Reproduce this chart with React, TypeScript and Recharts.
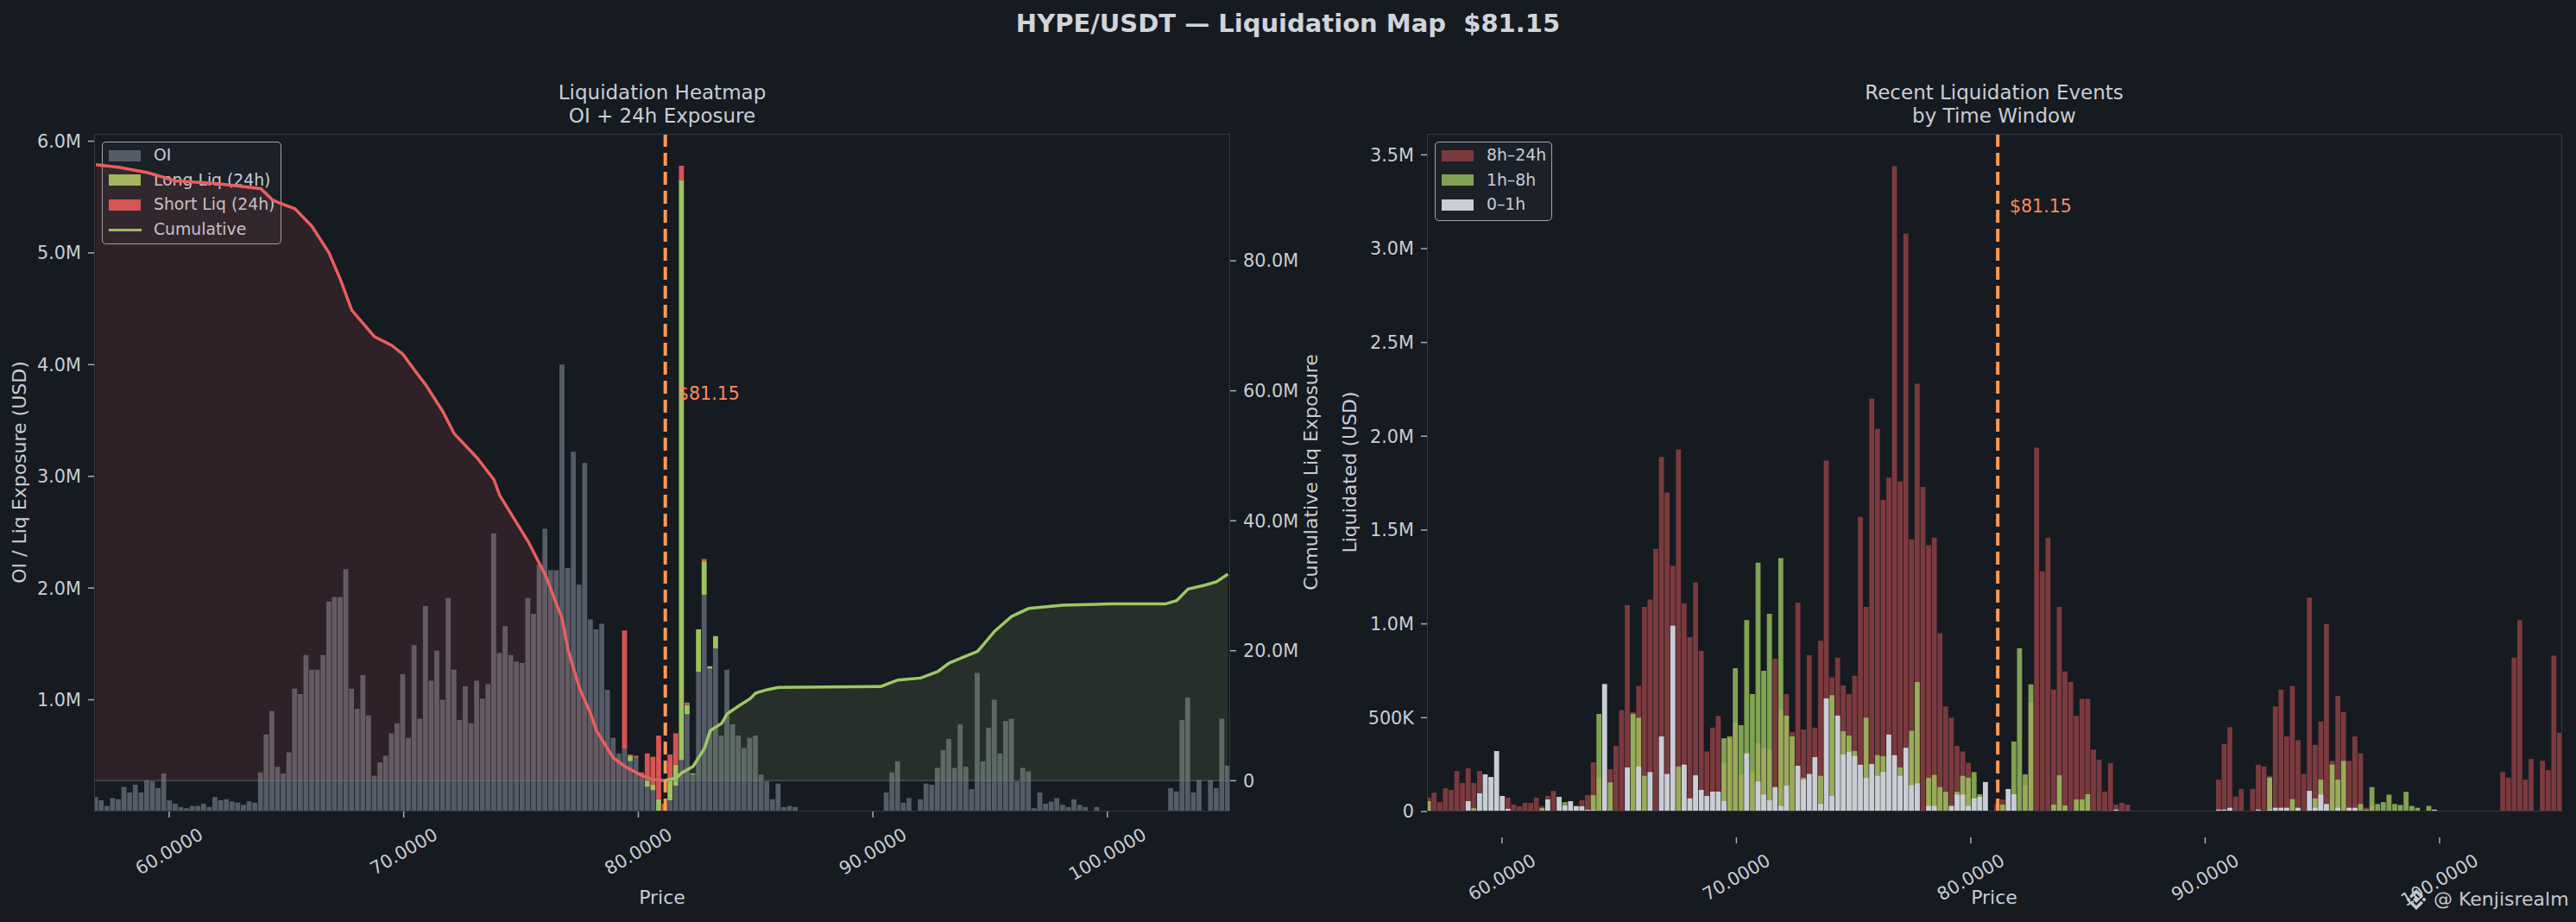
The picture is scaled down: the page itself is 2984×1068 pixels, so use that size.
import React from "react"
import { ComposedChart, Bar, Area, XAxis, YAxis, ReferenceLine } from "recharts"

const BG = "#161a21"
const TEXT = "#c9cdd5"
const FONT = "DejaVu Sans, sans-serif"

// price grid (bin centres) and current price
const PRICE_START = 56.874
const PRICE_STEP = 0.2425
const CURRENT_PRICE = 81.15
const X_DOMAIN = [56.8, 105.23]
const X_TICKS = [60, 70, 80, 90, 100]

// ---- left panel: OI + 24h exposure (millions USD), one value per bin ----
const OI_M = [
  0.13, 0.10, 0.05, 0.12, 0.11, 0.22, 0.17, 0.24, 0.17, 0.28,
  0.27, 0.21, 0.34, 0.10, 0.07, 0.04, 0.03, 0.05, 0.05, 0.07,
  0.04, 0.13, 0.10, 0.11, 0.09, 0.08, 0.06, 0.09, 0.08, 0.35,
  0.69, 0.90, 0.40, 0.34, 0.53, 1.10, 1.05, 1.40, 1.27, 1.27,
  1.40, 1.88, 1.92, 1.92, 2.17, 1.10, 0.92, 1.22, 0.86, 0.32,
  0.44, 0.50, 0.70, 0.79, 1.23, 0.66, 1.49, 0.83, 1.84, 1.17,
  1.44, 1.00, 1.91, 1.27, 0.82, 1.12, 0.79, 1.17, 1.01, 1.14,
  2.49, 1.42, 1.66, 1.40, 1.34, 1.33, 1.91, 1.77, 2.21, 2.53,
  2.16, 2.16, 4.00, 2.18, 3.22, 2.03, 3.12, 1.72, 1.63, 1.68,
  1.09, 0.66, 0.52, 0.56, 0.45, 0.48, 0.33, 0.22, 0.19, 0,
  0, 0.10, 0.23, 0.46, 0.87, 0.33, 1.25, 1.94, 1.28, 1.46,
  0.68, 1.27, 0.78, 0.68, 0.57, 0.66, 0.68, 0.33, 0.27, 0.11,
  0.25, 0.04, 0.05, 0.04, 0, 0, 0, 0, 0, 0,
  0, 0, 0, 0, 0, 0, 0, 0, 0, 0.17,
  0.35, 0.45, 0.08, 0.12, 0, 0.11, 0.25, 0.24, 0.39, 0.55,
  0.65, 0.39, 0.78, 0.40, 0.20, 1.24, 0.45, 0.75, 1.00, 0.52,
  0.81, 0.83, 0.27, 0.39, 0.36, 0.03, 0.17, 0.07, 0.09, 0.12,
  0.06, 0.04, 0.11, 0.06, 0.04, 0, 0.04, 0, 0, 0,
  0, 0, 0, 0, 0, 0, 0, 0, 0, 0.21,
  0.18, 0.82, 1.02, 0.17, 0.28, 0, 0.28, 0.21, 0.83, 0.41,
]

// [bin index, value in M]
const LONG_LIQ_M = [
  [94, 0.05], [97, 0.06], [98, 0.05], [99, 0.11], [101, 0.19], [102, 0.19],
  [103, 5.19], [104, 0.085], [105, 0.01], [106, 0.38], [107, 0.30], [108, 0.02], [109, 0.11],
]
const SHORT_LIQ_M = [
  [93, 1.06], [94, 0.01], [95, 0.02], [96, 0.02], [97, 0.24], [98, 0.25], [99, 0.57],
  [100, 0.07], [101, 0.22], [102, 0.28], [103, 0.13], [104, 0.02], [107, 0.02],
]

// cumulative exposure read at some bins [bin index, value in M]
const CUM_SHORT_M = [
  [0, 94.8], [4, 94.4], [9, 93.6], [14, 92.3], [21, 91.9], [29, 91.1], [31, 89.4], [32, 89.0],
  [35, 88.0], [38, 85.3], [41, 81.2], [43, 77.1], [45, 72.4], [49, 68.3], [52, 67.0], [54, 65.6],
  [56, 63.2], [58, 60.9], [61, 56.8], [63, 53.4], [67, 49.7], [70, 46.3], [71, 43.9], [76, 36.8],
  [79, 31.7], [82, 24.9], [83, 20.2], [85, 14.3], [87, 10.3], [88, 7.7], [91, 3.5], [93, 2.2],
  [96, 0.8], [98, 0.16], [100, 0],
]
const CUM_LONG_M = [
  [100, 0], [102, 0.4], [103, 1.2], [105, 2.2], [107, 5.0], [108, 7.7], [110, 8.8], [111, 10.3],
  [113, 11.5], [115, 12.6], [116, 13.5], [118, 14.0], [120, 14.35], [138, 14.5], [141, 15.5],
  [145, 15.8], [148, 16.8], [150, 18.1], [153, 19.2], [155, 19.9], [156, 20.9], [158, 23.0],
  [161, 25.3], [164, 26.5], [170, 27.0], [178, 27.2], [188, 27.2], [190, 27.7], [192, 29.5],
  [195, 30.1], [197, 30.6], [199, 31.8],
]

// ---- right panel: liquidated by time window (millions USD), one value per bin ----
const LIQ_8H_24H_M = [
  0.074, 0.10, 0.05, 0.124, 0.115, 0.216, 0.152, 0.23, 0.152, 0.216,
  0, 0, 0, 0, 0.074, 0.037, 0.028, 0.046, 0.046, 0.074,
  0.028, 0.083, 0.11, 0, 0, 0, 0.032, 0.06, 0.087, 0.262,
  0.18, 0, 0.225, 0.35, 0.54, 1.10, 0.53, 0.67, 1.09, 1.13,
  1.40, 1.89, 1.70, 1.31, 1.93, 1.11, 0.93, 1.22, 0.856, 0.32,
  0.447, 0.51, 0.258, 0.39, 0.474, 0.20, 0, 0.21, 0.364, 0.34,
  0.33, 0.815, 0.543, 0.626, 0.424, 1.114, 0.437, 0.833, 0.447, 0.91,
  1.87, 0.714, 0.82, 0.672, 0.626, 0.723, 1.57, 1.09, 2.20, 2.04,
  1.66, 1.78, 3.44, 1.76, 3.08, 1.45, 2.28, 1.73, 1.42, 1.46,
  0.95, 0.56, 0.50, 0.35, 0.32, 0.26, 0, 0, 0, 0,
  0.04, 0.064, 0, 0, 0, 0.138, 0.58, 1.94, 1.28, 1.46,
  0.65, 1.09, 0.746, 0.69, 0.51, 0.60, 0.60, 0.33, 0.276, 0.106,
  0.258, 0.037, 0.046, 0.037, 0, 0, 0, 0, 0, 0,
  0, 0, 0, 0, 0, 0, 0, 0, 0, 0.17,
  0.36, 0.45, 0.08, 0.12, 0, 0.12, 0.25, 0.24, 0.19, 0.56,
  0.65, 0.40, 0.67, 0.38, 0.20, 1.14, 0.355, 0.48, 1.00, 0.27,
  0.615, 0.53, 0.27, 0.40, 0.31, 0.02, 0.03, 0, 0, 0,
  0, 0, 0, 0, 0, 0, 0, 0, 0, 0,
  0, 0, 0, 0, 0, 0, 0, 0, 0, 0.21,
  0.18, 0.82, 1.02, 0.17, 0.28, 0, 0.27, 0.22, 0.83, 0.42,
]
const LIQ_1H_8H_M = [
  0.055, 0, 0, 0, 0, 0.005, 0.005, 0, 0.018, 0,
  0, 0, 0, 0, 0, 0, 0, 0, 0.005, 0,
  0.018, 0, 0, 0, 0.05, 0, 0, 0, 0, 0.087,
  0.52, 0, 0.155, 0, 0, 0, 0.52, 0.50, 0.19, 0,
  0, 0, 0, 0, 0.24, 0, 0, 0, 0, 0,
  0, 0, 0.39, 0.40, 0.764, 0.46, 1.02, 0.626, 1.326, 0.75,
  1.054, 0, 1.35, 0.511, 0.40, 0, 0.18, 0, 0, 0.19,
  0, 0.62, 0, 0.428, 0.405, 0.322, 0, 0.50, 0, 0.30,
  0.295, 0, 0, 0.235, 0, 0.43, 0.69, 0, 0.18, 0.195,
  0.13, 0.105, 0, 0.105, 0.19, 0.18, 0.21, 0.092, 0, 0,
  0, 0.037, 0, 0.373, 0.87, 0.198, 0.677, 0, 0, 0,
  0.037, 0.193, 0.032, 0, 0.064, 0.064, 0.092, 0, 0, 0,
  0, 0, 0, 0, 0, 0, 0, 0, 0, 0,
  0, 0, 0, 0, 0, 0, 0, 0, 0, 0,
  0, 0, 0, 0, 0, 0, 0, 0, 0.18, 0,
  0, 0, 0.066, 0, 0, 0, 0.07, 0.17, 0, 0.25,
  0.17, 0.27, 0, 0, 0.04, 0.01, 0.13, 0.04, 0.05, 0.09,
  0.04, 0.035, 0.105, 0.03, 0.02, 0, 0.03, 0, 0, 0,
  0, 0, 0, 0, 0, 0, 0, 0, 0, 0,
  0, 0, 0, 0, 0, 0, 0, 0, 0, 0,
]
const LIQ_0_1H_M = [
  0, 0, 0, 0, 0, 0, 0, 0.055, 0, 0.097,
  0.198, 0.184, 0.322, 0.083, 0.014, 0, 0, 0, 0, 0,
  0, 0.064, 0, 0.078, 0.032, 0.055, 0.028, 0.028, 0.009, 0.009,
  0, 0.68, 0, 0, 0, 0.235, 0, 0.24, 0, 0.21,
  0, 0.40, 0.20, 0.99, 0, 0.25, 0.07, 0.193, 0.115, 0.083,
  0.106, 0.106, 0.055, 0, 0, 0, 0.31, 0, 0.16, 0.09,
  0.06, 0.13, 0.03, 0.138, 0, 0.244, 0.17, 0.20, 0.29, 0.04,
  0.603, 0.083, 0.511, 0.304, 0.318, 0.295, 0.249, 0.18, 0.253, 0.19,
  0.21, 0.41, 0.30, 0.19, 0.34, 0.14, 0.15, 0, 0.03, 0.03,
  0, 0, 0.03, 0.09, 0.09, 0.03, 0.07, 0.078, 0.157, 0,
  0, 0, 0.12, 0.092, 0, 0, 0, 0, 0, 0,
  0, 0, 0, 0, 0, 0, 0, 0, 0, 0.005,
  0, 0.01, 0, 0.005, 0, 0, 0, 0, 0, 0,
  0, 0, 0, 0, 0, 0, 0, 0, 0, 0.01,
  0.01, 0.02, 0, 0, 0, 0, 0.01, 0, 0.01, 0.02,
  0.02, 0.02, 0, 0.02, 0, 0.11, 0.02, 0.09, 0.04, 0,
  0.02, 0, 0.02, 0.02, 0, 0, 0, 0, 0, 0,
  0, 0, 0, 0, 0, 0, 0, 0.01, 0, 0,
  0, 0, 0, 0, 0, 0, 0, 0, 0, 0,
  0, 0, 0, 0, 0, 0, 0, 0, 0, 0,
]

const prices = OI_M.map((_, i) => +(PRICE_START + PRICE_STEP * i).toFixed(4))

const heatRows = prices.map((price, i) => ({
  price,
  oi: OI_M[i],
  long: 0,
  short: 0,
  cumShort: null as number | null,
  cumLong: null as number | null,
}))
LONG_LIQ_M.forEach(([i, v]) => (heatRows[i].long = v))
SHORT_LIQ_M.forEach(([i, v]) => (heatRows[i].short = v))
CUM_SHORT_M.forEach(([i, v]) => (heatRows[i].cumShort = v))
CUM_LONG_M.forEach(([i, v]) => (heatRows[i].cumLong = v))

const eventRows = prices.map((price, i) => ({
  price,
  old: LIQ_8H_24H_M[i],
  mid: LIQ_1H_8H_M[i],
  recent: LIQ_0_1H_M[i],
}))

const COLORS = {
  oi: "#555c67",
  long: "#9cc35e",
  short: "#d75454",
  cumShort: "#e85f5d",
  cumLong: "#9dc866",
  price: "#ff9a56",
  priceText: "#ff8c5a",
  w824: "#7b3a3d",
  w18: "#a6d664", // drawn at 0.73 opacity, shows olive where it sits over red
  w01: "#c9ced6",
  frame: "#353a43",
  tick: "#a8adb5",
}

const fmtM = (v: number) => (v === 0 ? "0" : `${v.toFixed(1)}M`)
const fmtEvents = (v: number) => (v === 0 ? "0" : v < 1 ? `${Math.round(v * 1000)}K` : `${v.toFixed(1)}M`)

const yTick = { fill: TEXT, fontSize: 20.8, fontFamily: FONT }

function PriceTick(props: any) {
  const { x, y, payload } = props
  const label = Number(payload.value).toFixed(4)
  const fs = 20.8
  const len = (label.length - 1) * 0.636 * fs + 0.318 * fs
  const boxH = len * 0.5 + fs * 0.76 * 0.866
  const cy = y + 11 + boxH / 2
  return (
    <g transform={`translate(${x},${cy}) rotate(-30)`}>
      <text textAnchor="middle" dominantBaseline="central" fill={TEXT} fontSize={fs} fontFamily={FONT}>
        {label}
      </text>
    </g>
  )
}

const abs = (style: React.CSSProperties): React.CSSProperties => ({ position: "absolute", ...style })

function Label({ x, y, size, children, rotate, bold, color }: any) {
  return (
    <div
      style={abs({
        left: x,
        top: y,
        transform: `translate(-50%, -50%)${rotate ? " rotate(-90deg)" : ""}`,
        whiteSpace: "nowrap",
        fontSize: size,
        lineHeight: 1.2,
        fontWeight: bold ? "bold" : "normal",
        color: color || TEXT,
        textAlign: "center",
      })}
    >
      {children}
    </div>
  )
}

function LegendBox({ x, y, w, h, items }: any) {
  return (
    <div
      style={abs({
        left: x,
        top: y,
        width: w,
        height: h,
        boxSizing: "border-box",
        border: "1.5px solid rgba(196,200,208,0.8)",
        borderRadius: 5,
        background: "rgba(30,34,42,0.8)",
      })}
    >
      {items.map((it: any, k: number) => (
        <div key={k} style={abs({ left: 0, top: 16 + k * 28.7 - 1, width: w, height: 0 })}>
          {it.line ? (
            <div style={abs({ left: 7, top: -1.5, width: 38, height: 3.5, background: it.color })} />
          ) : (
            <div
              style={abs({ left: 7, top: -6.5, width: 37, height: 13, background: it.color, opacity: it.opacity ?? 1 })}
            />
          )}
          <div style={abs({ left: 59, top: -12, fontSize: 18.8, lineHeight: "24px", color: TEXT, whiteSpace: "nowrap" })}>
            {it.label}
          </div>
        </div>
      ))}
    </div>
  )
}

function Frame({ x, y, w, h }: any) {
  return (
    <div
      style={abs({
        left: x,
        top: y,
        width: w,
        height: h,
        boxSizing: "border-box",
        border: `1.5px solid ${COLORS.frame}`,
        pointerEvents: "none",
      })}
    />
  )
}

function Logo() {
  const c = "#c4c8cf"
  return (
    <svg width={28} height={28} viewBox="0 0 28 28" style={abs({ left: 2785, top: 1028 })}>
      <polygon points="14,10 18,14 14,18 10,14" fill={c} />
      <polygon points="5,11.5 7.5,14 5,16.5 2.5,14" fill={c} />
      <polygon points="23,11.5 25.5,14 23,16.5 20.5,14" fill={c} />
      <polygon points="14,2 22,10 19.5,12.5 14,7 8.5,12.5 6,10" fill={c} />
      <polygon points="14,26 22,18 19.5,15.5 14,21 8.5,15.5 6,18" fill={c} />
    </svg>
  )
}

export default function App() {
  return (
    <div
      style={abs({
        left: 0,
        top: 0,
        width: 2984,
        height: 1068,
        background: BG,
        overflow: "hidden",
        fontFamily: FONT,
      })}
    >
      {/* legend behind the left chart so the cumulative line runs over it */}
      <LegendBox
        x={118}
        y={164}
        w={208}
        h={119}
        items={[
          { label: "OI", color: COLORS.oi },
          { label: "Long Liq (24h)", color: COLORS.long },
          { label: "Short Liq (24h)", color: COLORS.short },
          { label: "Cumulative", color: COLORS.cumLong, line: true },
        ]}
      />

      <div style={abs({ left: 0, top: 0 })}>
        <ComposedChart width={1540} height={1068} data={heatRows} margin={{ top: 155, right: 15, bottom: 48, left: 19 }}>
          <XAxis
            dataKey="price"
            type="number"
            domain={X_DOMAIN}
            allowDataOverflow
            ticks={X_TICKS}
            interval={0}
            height={80}
            axisLine={false}
            tickSize={7}
            tickMargin={0}
            tickLine={{ stroke: COLORS.tick, strokeWidth: 1.5 }}
            tick={<PriceTick />}
          />
          <YAxis
            yAxisId="left"
            type="number"
            domain={[0, 6.066]}
            allowDataOverflow
            ticks={[1, 2, 3, 4, 5, 6]}
            width={90}
            axisLine={false}
            tickSize={7}
            tickMargin={8}
            tickLine={{ stroke: COLORS.tick, strokeWidth: 1.5 }}
            tick={yTick}
            tickFormatter={fmtM}
          />
          <YAxis
            yAxisId="right"
            orientation="right"
            type="number"
            domain={[-4.74, 99.54]}
            allowDataOverflow
            ticks={[0, 20, 40, 60, 80]}
            width={100}
            axisLine={false}
            tickSize={7}
            tickMargin={8}
            tickLine={{ stroke: COLORS.tick, strokeWidth: 1.5 }}
            tick={yTick}
            tickFormatter={fmtM}
          />
          <Bar yAxisId="left" dataKey="oi" stackId="s" fill={COLORS.oi} barSize={5.8} isAnimationActive={false} />
          <Bar yAxisId="left" dataKey="long" stackId="s" fill={COLORS.long} barSize={5.8} isAnimationActive={false} />
          <Bar yAxisId="left" dataKey="short" stackId="s" fill={COLORS.short} barSize={5.8} isAnimationActive={false} />
          <Area
            yAxisId="right"
            type="linear"
            dataKey="cumShort"
            baseValue={0}
            connectNulls
            stroke={COLORS.cumShort}
            strokeWidth={3.5}
            fill="#e05c5c"
            fillOpacity={0.12}
            dot={false}
            activeDot={false}
            zIndex={350}
            isAnimationActive={false}
          />
          <Area
            yAxisId="right"
            type="linear"
            dataKey="cumLong"
            baseValue={0}
            connectNulls
            stroke={COLORS.cumLong}
            strokeWidth={3.5}
            fill="#9ccc65"
            fillOpacity={0.12}
            dot={false}
            activeDot={false}
            zIndex={350}
            isAnimationActive={false}
          />
          <ReferenceLine yAxisId="right" y={0} stroke="rgba(120,124,132,0.45)" strokeWidth={1.5} zIndex={360} />
          <ReferenceLine
            yAxisId="left"
            x={CURRENT_PRICE}
            stroke={COLORS.price}
            strokeWidth={4}
            strokeDasharray="15 7"
            zIndex={450}
          />
        </ComposedChart>
      </div>

      <div style={abs({ left: 1540, top: 0 })}>
        <ComposedChart width={1444} height={1068} data={eventRows} margin={{ top: 155, right: 16, bottom: 48, left: 13 }}>
          <XAxis
            xAxisId="old"
            dataKey="price"
            type="number"
            domain={X_DOMAIN}
            allowDataOverflow
            ticks={X_TICKS}
            interval={0}
            height={80}
            axisLine={false}
            tickSize={7}
            tickMargin={0}
            tickLine={{ stroke: COLORS.tick, strokeWidth: 1.5 }}
            tick={<PriceTick />}
          />
          <XAxis xAxisId="mid" dataKey="price" type="number" domain={X_DOMAIN} allowDataOverflow hide />
          <XAxis xAxisId="recent" dataKey="price" type="number" domain={X_DOMAIN} allowDataOverflow hide />
          <YAxis
            type="number"
            domain={[0, 3.612]}
            allowDataOverflow
            ticks={[0, 0.5, 1, 1.5, 2, 2.5, 3, 3.5]}
            width={100}
            axisLine={false}
            tickSize={7}
            tickMargin={8}
            tickLine={{ stroke: COLORS.tick, strokeWidth: 1.5 }}
            tick={yTick}
            tickFormatter={fmtEvents}
          />
          <Bar xAxisId="old" dataKey="old" fill={COLORS.w824} barSize={5.8} isAnimationActive={false} />
          <Bar
            xAxisId="mid"
            dataKey="mid"
            fill={COLORS.w18}
            fillOpacity={0.73}
            barSize={5.8}
            isAnimationActive={false}
          />
          <Bar xAxisId="recent" dataKey="recent" fill={COLORS.w01} barSize={5.8} isAnimationActive={false} />
          <ReferenceLine
            xAxisId="old"
            x={CURRENT_PRICE}
            stroke={COLORS.price}
            strokeWidth={4}
            strokeDasharray="15 7"
            zIndex={450}
          />
        </ComposedChart>
      </div>

      <Frame x={109} y={155} w={1316} h={785} />
      <Frame x={1653} y={155} w={1315} h={785} />

      <LegendBox
        x={1662}
        y={164}
        w={136}
        h={92}
        items={[
          { label: "8h–24h", color: COLORS.w824 },
          { label: "1h–8h", color: COLORS.w18, opacity: 0.73 },
          { label: "0–1h", color: COLORS.w01 },
        ]}
      />

      {/* titles */}
      <Label x={1492} y={27} size={29} bold color="#d0d4db">
        HYPE/USDT — Liquidation Map&nbsp;&nbsp;$81.15
      </Label>
      <Label x={767} y={108} size={23}>Liquidation Heatmap</Label>
      <Label x={767} y={135} size={23}>OI + 24h Exposure</Label>
      <Label x={2310} y={108} size={23}>Recent Liquidation Events</Label>
      <Label x={2310} y={135} size={23}>by Time Window</Label>

      {/* axis titles */}
      <Label x={767} y={1040} size={22}>Price</Label>
      <Label x={2310} y={1040} size={22}>Price</Label>
      <Label x={23} y={547} size={22} rotate>OI / Liq Exposure (USD)</Label>
      <Label x={1519} y={547} size={22} rotate>Cumulative Liq Exposure</Label>
      <Label x={1564} y={547} size={22} rotate>Liquidated (USD)</Label>

      {/* current price labels */}
      <div style={abs({ left: 785, top: 444, fontSize: 20.5, lineHeight: "24px", color: COLORS.priceText })}>$81.15</div>
      <div style={abs({ left: 2328, top: 227, fontSize: 20.5, lineHeight: "24px", color: COLORS.priceText })}>$81.15</div>

      {/* watermark */}
      <Logo />
      <div style={abs({ left: 2819, top: 1029, fontSize: 22, lineHeight: "26px", color: "#c4c8cf", whiteSpace: "nowrap" })}>
        @ Kenjisrealm
      </div>
    </div>
  )
}
